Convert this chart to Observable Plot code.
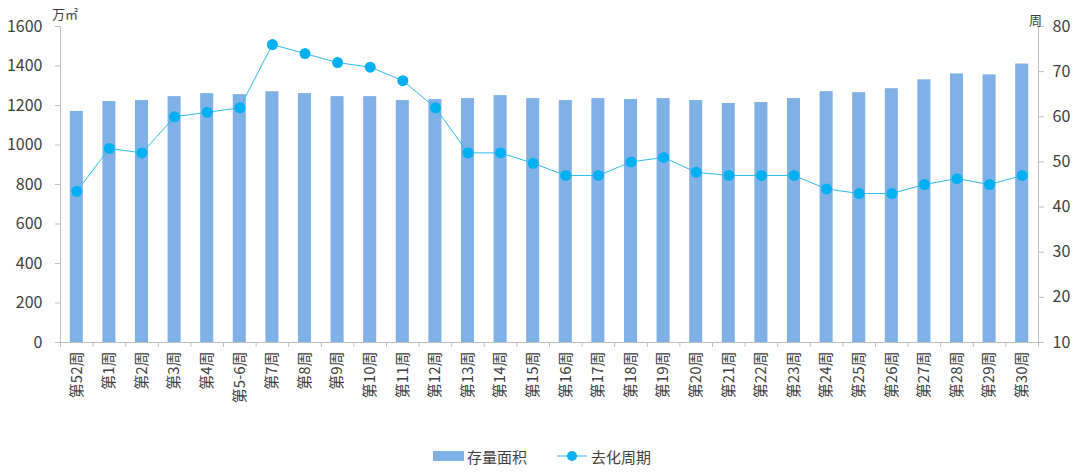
<!DOCTYPE html>
<html><head><meta charset="utf-8">
<script src="https://cdn.jsdelivr.net/npm/d3@7"></script>
<script src="https://cdn.jsdelivr.net/npm/@observablehq/plot@0.6"></script>
<style>
body{margin:0;background:#fff;font-family:"Noto Sans CJK SC","Noto Sans",sans-serif;}
#wrap{position:relative;width:1080px;height:472px;}
.unit{position:absolute;font-size:13px;color:#404040;}
#legend{position:absolute;left:0;top:444px;width:1080px;height:24px;display:flex;justify-content:center;align-items:center;font-size:15px;color:#404040;gap:0;}
#legend span{display:inline-flex;align-items:center;}
</style></head>
<body><div id="wrap"><div id="chart"></div>
<div class="unit" style="left:52px;top:4px;">万㎡</div>
<div class="unit" style="left:1029px;top:10px;">周</div>
<div id="legend">
<span style="margin-left:4px"><svg width="31" height="10"><rect x="0" y="0" width="31" height="10" fill="#7fb1e7"/></svg><span style="margin-left:3px">存量面积</span></span>
<span style="margin-left:30px"><svg width="30" height="12"><line x1="0" x2="30" y1="6" y2="6" stroke="#2dbdf0" stroke-width="1"/><circle cx="15" cy="6" r="5" fill="#00b0f0"/></svg><span style="margin-left:4px">去化周期</span></span>
</div></div>
<script>
const categories = ["第52周","第1周","第2周","第3周","第4周","第5-6周","第7周","第8周","第9周","第10周","第11周","第12周","第13周","第14周","第15周","第16周","第17周","第18周","第19周","第20周","第21周","第22周","第23周","第24周","第25周","第26周","第27周","第28周","第29周","第30周"];
const stock = [1170,1220,1225,1245,1260,1255,1270,1260,1245,1245,1225,1230,1235,1250,1235,1225,1235,1230,1235,1225,1210,1215,1235,1270,1265,1285,1330,1360,1355,1410];
const cycle = [43.5,53,52,60,61,62,76,74,72,71,68,62,52,52,49.7,47,47,50,51,47.7,47,47,47,44,43,43,45,46.3,45,47];
const leftTicks = [0,200,400,600,800,1000,1200,1400,1600];
const rightTicks = [10,20,30,40,50,60,70,80];
const leftMax = 1600, rightMin = 10, rightMax = 80;

const toLeft = v => (v - rightMin) * leftMax / (rightMax - rightMin);

const rows = categories.map((c, i) => ({cat: c, stock: stock[i], cycle: cycle[i]}));
const axisColor = "#bfbfbf";
const textColor = "#404040";
const half = 978 / categories.length / 2;

const chart = Plot.plot({
  width: 1080, height: 430,
  marginLeft: 60, marginRight: 42, marginTop: 26, marginBottom: 88,
  style: {fontFamily: '"Noto Sans CJK SC","Noto Sans",sans-serif', color: textColor, background: "#fff"},
  x: {type: "band", domain: categories, paddingInner: 0.6, paddingOuter: 0.3, round: false, label: null},
  y: {domain: [0, leftMax], label: null},
  marks: [
    Plot.barY(rows, {x: "cat", y: "stock", fill: "#7fb1e7"}),
    Plot.ruleY([0], {stroke: axisColor}),
    Plot.line(rows, {x: "cat", y: d => toLeft(d.cycle), stroke: "#2dbdf0", strokeWidth: 1}),
    Plot.dot(rows, {x: "cat", y: d => toLeft(d.cycle), r: 5.5, fill: "#00b0f0", stroke: "none"}),
    Plot.axisY(leftTicks, {anchor: "left", tickFormat: d => String(d), tickSize: 5, tickPadding: 13, fontSize: 16, stroke: axisColor, fill: textColor, label: null}),
    Plot.ruleX([categories[0]], {dx: -half, stroke: axisColor}),
    Plot.ruleX([categories[categories.length-1]], {dx: half, stroke: axisColor}),
    Plot.axisY(rightTicks, {anchor: "right", y: d => toLeft(d), tickFormat: d => String(d), tickSize: 5, tickPadding: 9, fontSize: 16, stroke: axisColor, fill: textColor, label: null}),
    Plot.axisX({tickSize: 0, tickRotate: -90, tickPadding: 9, fontSize: 15, fill: textColor, label: null}),
    Plot.axisX({tickSize: 5, text: null, dx: -half, stroke: axisColor, label: null}),
    Plot.axisX([categories[categories.length-1]], {tickSize: 5, text: null, dx: half, stroke: axisColor, label: null})
  ]
});
document.getElementById("chart").appendChild(chart);
</script></body></html>
